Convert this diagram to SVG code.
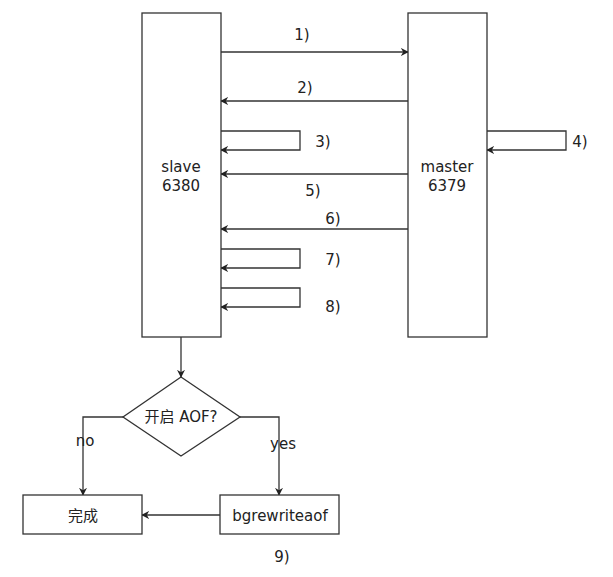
<svg xmlns="http://www.w3.org/2000/svg" width="613" height="577" viewBox="0 0 613 577">
<defs>
<marker id="ah" viewBox="0 0 10 10" refX="9" refY="5" markerWidth="8" markerHeight="8" markerUnits="userSpaceOnUse" orient="auto">
<path d="M0,0 L10,5 L0,10 L3,5 Z" fill="#222"/>
</marker>
</defs>
<style>
.box{fill:#fff;stroke:#333;stroke-width:1.3}
.ln{fill:none;stroke:#333;stroke-width:1.3}
.ar{fill:none;stroke:#333;stroke-width:1.3;marker-end:url(#ah)}
text{font-family:"DejaVu Sans","Noto Sans CJK SC",sans-serif;font-size:15px;fill:#222;text-anchor:middle;dominant-baseline:central}
</style>
<rect width="613" height="577" fill="#fff"/>
<g id="connectors">
<line class="ar" x1="221" y1="52" x2="408" y2="52"/>
<line class="ar" x1="408" y1="101" x2="221" y2="101"/>
<polyline class="ar" points="221,131 300,131 300,150 221,150"/>
<polyline class="ar" points="487,131 566,131 566,150 487,150"/>
<line class="ar" x1="408" y1="174" x2="221" y2="174"/>
<line class="ar" x1="408" y1="229" x2="221" y2="229"/>
<polyline class="ar" points="221,249 300,249 300,268 221,268"/>
<polyline class="ar" points="221,288 300,288 300,307 221,307"/>
<line class="ar" x1="181" y1="337" x2="181" y2="377"/>
<polyline class="ar" points="123,417 83,417 83,495"/>
<polyline class="ar" points="240,417 279,417 279,495"/>
<line class="ar" x1="220" y1="515" x2="142" y2="515"/>
<text x="302" y="35">1)</text>
<text x="305" y="88">2)</text>
<text x="323" y="142">3)</text>
<text x="580" y="142">4)</text>
<text x="313" y="191">5)</text>
<text x="333" y="219">6)</text>
<text x="333" y="260">7)</text>
<text x="333" y="307">8)</text>
<text x="85" y="441">no</text>
<text x="283" y="444">yes</text>
<text x="282" y="557">9)</text>
</g>
<g id="slave">
<rect class="box" x="142" y="13" width="79" height="324"/>
<text x="181" y="167">slave</text>
<text x="181" y="186">6380</text>
</g>
<g id="master">
<rect class="box" x="408" y="13" width="79" height="324"/>
<text x="447" y="167">master</text>
<text x="447" y="186">6379</text>
</g>
<g id="decision">
<polygon class="box" points="181,377 240,417 181,456 123,417"/>
<text x="181" y="417">开启 AOF?</text>
</g>
<g id="done">
<rect class="box" x="23" y="495" width="119" height="39"/>
<text x="83" y="516">完成</text>
</g>
<g id="bgrewriteaof">
<rect class="box" x="220" y="495" width="119" height="39"/>
<text x="280" y="516">bgrewriteaof</text>
</g>
</svg>
